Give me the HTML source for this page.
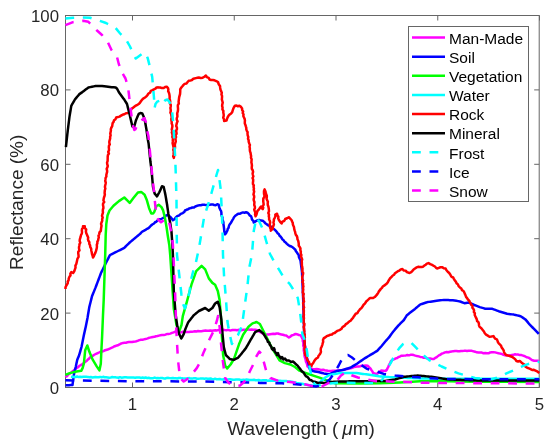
<!DOCTYPE html>
<html><head><meta charset="utf-8"><style>
html,body{margin:0;padding:0;background:#fff;}
svg{display:block;}
text{font-family:"Liberation Sans",Arial,sans-serif;fill:#262626;}
.lg{fill:#000;}
.c{fill:none;stroke-width:2.5;stroke-linejoin:round;}
</style></head><body>
<svg width="550" height="445" viewBox="0 0 550 445">
<rect width="550" height="445" fill="#fff"/>
<g stroke="#666" stroke-width="1" fill="none">
<rect x="65.5" y="15.5" width="473.70000000000005" height="372.0"/>
<line x1="132.50" y1="387.5" x2="132.50" y2="382.5"/><line x1="132.50" y1="15.5" x2="132.50" y2="20.5"/>
<line x1="234.25" y1="387.5" x2="234.25" y2="382.5"/><line x1="234.25" y1="15.5" x2="234.25" y2="20.5"/>
<line x1="336.00" y1="387.5" x2="336.00" y2="382.5"/><line x1="336.00" y1="15.5" x2="336.00" y2="20.5"/>
<line x1="437.75" y1="387.5" x2="437.75" y2="382.5"/><line x1="437.75" y1="15.5" x2="437.75" y2="20.5"/>
<line x1="539.50" y1="387.5" x2="539.50" y2="382.5"/><line x1="539.50" y1="15.5" x2="539.50" y2="20.5"/>
<line x1="65.5" y1="387.50" x2="70.5" y2="387.50"/><line x1="539.2" y1="387.50" x2="534.2" y2="387.50"/>
<line x1="65.5" y1="313.10" x2="70.5" y2="313.10"/><line x1="539.2" y1="313.10" x2="534.2" y2="313.10"/>
<line x1="65.5" y1="238.70" x2="70.5" y2="238.70"/><line x1="539.2" y1="238.70" x2="534.2" y2="238.70"/>
<line x1="65.5" y1="164.30" x2="70.5" y2="164.30"/><line x1="539.2" y1="164.30" x2="534.2" y2="164.30"/>
<line x1="65.5" y1="89.90" x2="70.5" y2="89.90"/><line x1="539.2" y1="89.90" x2="534.2" y2="89.90"/>
<line x1="65.5" y1="15.50" x2="70.5" y2="15.50"/><line x1="539.2" y1="15.50" x2="534.2" y2="15.50"/>
</g>
<g>
<polyline class="c" stroke="#ff00ff" points="65.4,377 67.11,376.06 68.3,374.45 70,373.5 71.39,372.5 72.59,371.29 74.07,370.4 75.16,369.06 76.5,368 78.14,367.21 79.39,365.83 81,365 82.57,364.24 83.77,362.96 85.09,361.85 86.6,361 87.67,359.77 88.92,358.72 90,357.5 91.2,356.51 92.63,355.94 93.86,354.99 95.21,354.27 96.57,353.58 98,353 99.54,352.25 101.15,351.67 102.86,351.36 104.38,350.55 106,350 107.69,349.5 109.3,348.82 110.9,348.12 112.51,347.45 114,346.5 115.52,345.96 117.04,345.43 118.58,344.96 120.01,344.19 121.42,343.38 123,343 124.5,342.84 126,342.68 127.48,342.29 128.97,342.07 130.48,341.95 132.01,342.09 133.5,341.8 135.04,341.63 136.52,341.18 137.99,340.69 139.43,340.1 140.93,339.73 142.52,339.76 144,339.33 145.49,338.93 147,338.6 148.44,338.04 149.92,337.65 151.42,337.31 152.9,336.92 154.46,336.82 155.91,336.29 157.43,336.07 158.9,335.63 160.4,335.3 162.02,335.07 163.66,334.92 165.29,334.69 166.85,334.05 168.5,334 170.3,333.63 171.97,332.95 173.67,332.31 175.3,331.5 176.87,331.67 178.4,332.17 180,332.1 181.51,332.22 182.99,331.81 184.5,332.01 186.01,332.04 187.51,331.92 189.01,331.94 190.5,331.65 192,331.67 193.5,331.5 194.99,331.17 196.51,331.44 197.99,331.05 199.51,331.32 201.01,331.35 202.5,330.96 203.99,330.7 205.49,330.6 207,330.8 208.68,330.72 210.34,330.42 212.03,330.68 213.7,330.52 215.38,330.36 217.06,330.38 218.71,329.98 220.4,330.1 221.91,330.07 223.42,329.83 224.92,330.13 226.43,330.28 227.94,329.89 229.45,330.21 230.95,330.4 232.46,329.99 233.97,329.92 235.48,329.95 236.98,330.3 238.49,329.85 240,330.1 241.71,330.13 243.39,329.68 245.11,329.83 246.82,329.77 248.5,329.4 250.1,329.75 251.76,329.5 253.36,329.85 254.99,329.85 256.6,330.1 257.84,331.08 259.36,331.56 260.75,332.28 262.03,333.18 263.47,333.8 264.7,334.8 266.48,334.43 268.31,334.52 270.1,334.2 271.69,333.96 273.28,333.73 274.92,334.04 276.49,333.5 278.1,333.5 279.68,334.07 281.31,334.41 282.95,334.73 284.56,335.19 286.2,335.5 287.52,336.54 288.9,337.5 290.37,336.66 291.6,335.5 293.54,334.86 295.4,334 297.23,334.33 298.98,335.02 300.8,335.4 301.8,337.4 302.8,339.4 302.73,341.03 303.39,342.57 303.37,344.2 303.25,345.83 303.97,347.37 303.76,349.02 303.83,350.63 304.19,352.21 304.7,353.77 304.45,355.42 304.8,357 305.39,358.53 305.69,360.14 305.97,361.75 306.71,363.24 307.2,364.79 307.5,366.4 309.4,368 311.28,368.43 313,369.3 314.8,369.21 316.6,369.06 318.4,369.3 319.96,369.64 321.52,369.95 323.16,369.71 324.7,370.2 326.27,370.42 327.83,370.77 329.4,370.97 331,371 332.76,370.71 334.55,370.72 336.33,370.66 338.1,370.4 339.67,370.2 341.27,370.26 342.83,369.99 344.4,369.81 345.9,369.09 347.5,369.1 349.01,368.38 350.68,368.25 352.26,367.8 353.79,367.16 355.37,366.7 357,366.4 358.69,366.4 360.37,366.23 361.99,365.58 363.7,365.7 365.75,365.47 367.8,365.7 369.01,367.14 370.4,368.4 371.34,369.91 372.38,371.36 373.1,373 375.1,373.66 377.2,373.8 378.47,372.65 379.71,371.47 381.2,370.6 383.35,370.75 385.5,371 387,369.5 387.62,367.98 388.41,366.54 389,365 390.14,363.07 391,361 392.58,359.83 394.4,359.1 395.75,358.4 397.23,357.96 398.48,357.05 399.94,356.59 401.2,355.7 402.76,355.81 404.3,355.62 405.84,355.4 407.35,354.95 408.94,355.35 410.45,354.81 412,354.8 413.7,355.09 415.35,355.6 417.02,356.02 418.7,356.4 420.34,356.91 422.05,357.12 423.67,357.7 425.4,357.8 426.99,358.23 428.63,358.41 430.28,358.45 431.87,358.92 433.5,359.1 434.87,358.2 436.32,357.43 437.6,356.4 438.86,355.39 440.36,354.75 441.6,353.7 443.35,353.17 445,352.4 446.64,351.98 448.37,352.19 450,351.69 451.66,351.43 453.32,351.14 455,351 456.5,350.91 458,351.14 459.5,351.19 461,350.9 462.5,350.92 464,350.86 465.5,350.63 467,351.07 468.5,350.77 470,350.8 471.74,350.86 473.39,351.32 475.06,351.7 476.69,352.33 478.4,352.5 480.12,352.47 481.82,352.62 483.48,353.22 485.21,353.02 486.9,353.3 488.59,353.28 490.15,352.46 491.81,352.23 493.5,352.2 495.21,352.38 496.86,352.84 498.52,353.27 500.2,353.6 501.93,354 503.52,354.87 505.22,355.36 507,355.6 508.63,355.38 510.29,355.37 511.89,355.03 513.53,354.84 515.1,354.3 516.69,354.61 518.34,354.59 519.89,355.12 521.54,355.07 523.1,355.6 524.92,356.22 526.6,357.21 528.5,357.6 529.9,358.45 531.17,359.49 532.6,360.3 534.25,360.74 535.94,360.77 537.63,360.76 539.3,361"/>
<polyline class="c" stroke="#0000ff" points="65.5,385.3 67.25,385.23 69,385.15 70.75,385.07 72.5,385 72.7,383.4 72.9,381.8 73.1,380.2 73.35,378.52 73.6,376.85 73.85,375.18 74.1,373.5 74.52,371.8 74.95,370.1 75.38,368.4 75.8,366.7 76.15,365.02 76.5,363.35 76.85,361.68 77.2,360 77.87,358.33 78.53,356.67 79.2,355 79.66,353.4 80.12,351.8 80.58,350.2 81.04,348.6 81.5,347 81.8,345.5 82.1,344 82.4,342.5 82.7,341 83,339.5 83.3,338 83.6,336.5 83.9,335 84.26,333.38 84.62,331.76 84.98,330.14 85.34,328.52 85.7,326.9 86,325.4 86.3,323.9 86.6,322.4 86.9,320.9 87.2,319.4 87.5,317.9 87.76,316.36 88.01,314.81 88.27,313.27 88.53,311.73 88.79,310.19 89.04,308.64 89.3,307.1 89.69,305.56 90.07,304.01 90.46,302.47 90.84,300.93 91.23,299.39 91.61,297.84 92,296.3 92.6,294.82 93.2,293.33 93.8,291.85 94.4,290.37 95,288.88 95.6,287.4 96.14,285.96 96.68,284.52 97.22,283.08 97.76,281.64 98.3,280.2 98.84,278.76 99.38,277.32 99.92,275.88 100.46,274.44 101,273 101.66,271.65 102.33,270.3 102.99,268.95 103.65,267.6 104.31,266.25 104.97,264.9 105.64,263.55 106.3,262.2 107.04,260.76 107.78,259.32 108.52,257.88 109.26,256.44 110,255 111.42,254.3 112.84,253.6 114.26,252.9 115.68,252.2 117.1,251.5 118.54,250.76 119.98,250.02 121.42,249.28 122.86,248.54 124.3,247.8 125.38,246.74 126.46,245.68 127.54,244.62 128.62,243.56 129.7,242.5 131.05,241.38 132.4,240.25 133.75,239.12 135.1,238 136.45,236.88 137.8,235.75 139.15,234.62 140.5,233.5 141.74,232.05 143.29,231.02 145,230.2 146.45,229.15 148.09,228.41 149.5,227.3 150.79,225.78 152.27,224.5 154,223.5 155.04,222.25 156.55,221.54 157.6,220.3 159.28,219.24 161.28,218.97 163,218 164.58,217.09 165.81,215.66 167.5,214.9 168.83,215.83 170.2,216.7 171.14,217.87 172.06,219.05 172.9,220.3 174.57,219.27 175.6,217.6 177.2,216.14 179.2,215.3 180.77,213.83 182.8,213.1 184.2,212.06 185,210.5 186.52,209.77 188.1,209.2 189.44,208.41 190.93,207.98 192.38,207.47 194,207.42 195.3,206.5 197.04,205.8 198.84,205.35 200.72,205.22 202.5,204.7 204.3,204.74 206.1,205.11 207.9,205 209.7,204.7 211.2,204.57 212.7,204.43 214.2,205 215.7,205.14 217.2,204.28 218.7,204.7 219.04,206.39 219.47,208.04 220.19,209.6 221.1,211.1 221.4,212.8 221.41,214.46 221.74,216.07 222.48,217.61 222.35,219.3 223,220.86 223.43,222.45 223.44,224.12 223.71,225.74 223.92,227.36 224.1,229 224.27,230.79 224.4,232.58 225,234.3 226.05,233.14 226.73,231.79 227.42,230.45 227.7,228.9 228.61,227.67 228.89,226.12 229.46,224.72 230.4,223.5 231.4,221.98 232.24,220.37 233.24,218.85 234,217.2 235.28,215.74 236.83,214.65 238.5,213.7 240.11,213.63 241.53,212.92 243,212.4 244.48,212.71 246.03,212.3 247.5,212.8 248.76,213.9 249.64,215.4 251.1,216.3 251.65,217.93 252.04,219.62 253.38,220.92 253.8,222.6 255.13,221.67 256.5,220.8 259.2,219.9 260.93,220.61 262.8,220.8 264.16,221.89 265.28,223.25 266.74,224.22 268.1,225.3 269.64,225.91 271,226.8 271.91,228.36 273.5,228.9 274.82,229.74 275.85,230.87 276.84,232.04 277.68,233.36 278.9,234.3 279.55,235.69 280.72,236.69 281.6,237.9 282.29,239.26 283.56,240.18 284.3,241.5 285.72,242.54 286.94,243.83 288.27,244.97 289.7,246 291.41,246.54 292.88,247.5 294.2,248.7 295.36,249.7 295.84,251.22 296.9,252.3 297.66,253.75 298.7,255 298.9,256.93 299.67,258.68 300.5,260.4 300.71,262.06 300.93,263.71 301.14,265.37 301.36,267.03 301.57,268.69 301.79,270.34 302,272 302.07,273.56 302.13,275.11 302.2,276.67 302.27,278.22 302.33,279.78 302.4,281.33 302.47,282.89 302.53,284.44 302.6,286 302.67,287.56 302.73,289.11 302.8,290.67 302.87,292.22 302.93,293.78 303,295.33 303.07,296.89 303.13,298.44 303.2,300 303.24,301.5 303.28,303 303.32,304.5 303.36,306 303.4,307.5 303.44,309 303.48,310.5 303.52,312 303.56,313.5 303.6,315 303.64,316.5 303.68,318 303.72,319.5 303.76,321 303.8,322.5 303.84,324 303.88,325.5 303.92,327 303.96,328.5 304,330 304.07,331.5 304.13,333 304.2,334.5 304.27,336 304.33,337.5 304.4,339 304.47,340.5 304.53,342 304.6,343.5 304.83,345 305.07,346.5 305.3,348 305.53,349.5 305.77,351 306,352.5 306.23,354 306.47,355.5 306.7,357 307.15,358.62 307.6,360.25 308.05,361.88 308.5,363.5 308.93,365.3 309.37,367.1 309.8,368.9 311.4,370 313,371.1 314.8,371.4 316.6,371.7 318.4,372 320.2,372.47 322,372.93 323.8,373.4 325.6,373.7 327.4,374 329.2,374.3 330.7,373.66 332.2,373.02 333.7,372.38 335.2,371.74 336.7,371.1 338.4,370.78 340.1,370.45 341.8,370.12 343.5,369.8 345.18,369.3 346.85,368.8 348.52,368.3 350.2,367.8 351.56,366.98 352.92,366.16 354.28,365.34 355.64,364.52 357,363.7 358.34,362.76 359.68,361.82 361.02,360.88 362.36,359.94 363.7,359 365.04,358.18 366.38,357.36 367.72,356.54 369.06,355.72 370.4,354.9 371.76,354.1 373.12,353.3 374.48,352.5 375.84,351.7 377.2,350.9 378.53,349.43 379.87,347.97 381.2,346.5 382.23,345.25 383.25,344 384.27,342.75 385.3,341.5 386.53,340.13 387.77,338.77 389,337.4 390.02,335.97 391.05,334.55 392.08,333.12 393.1,331.7 394.18,330.44 395.26,329.18 396.34,327.92 397.42,326.66 398.5,325.4 399.58,324.32 400.66,323.24 401.74,322.16 402.82,321.08 403.9,320 404.9,318.4 405.9,316.8 406.9,315.2 408.25,314.15 409.6,313.1 410.95,312.05 412.3,311 413.65,309.95 415,308.9 416.35,307.77 417.7,306.65 419.05,305.52 420.4,304.4 421.84,303.94 423.28,303.48 424.72,303.02 426.16,302.56 427.6,302.1 429.1,301.88 430.6,301.67 432.1,301.45 433.6,301.23 435.1,301.02 436.6,300.8 438.4,300.57 440.2,300.35 442,300.12 443.8,299.9 445.3,299.97 446.8,300.03 448.3,300.1 449.8,300.17 451.3,300.23 452.8,300.3 454.57,300.57 456.35,300.85 458.12,301.12 459.9,301.4 461.4,302 462.9,302.6 464.4,303.2 465.9,303 467.4,302.8 468.9,302.6 470.7,303.4 472.5,304.2 474.3,305 476.1,305.7 477.9,306.4 479.7,307.1 481.53,307.63 483.37,308.17 485.2,308.7 486.88,308.7 488.55,308.7 490.22,308.7 491.9,308.7 493.6,309.32 495.3,309.95 497,310.57 498.7,311.2 500.38,311.7 502.06,312.2 503.74,312.7 505.42,313.2 507.1,313.7 508.77,313.93 510.45,314.15 512.12,314.38 513.8,314.6 515.5,315 517.2,315.4 518.9,315.8 520.6,316.2 521.85,317.05 523.1,317.9 524.35,318.75 525.6,319.6 526.65,320.88 527.7,322.15 528.75,323.43 529.8,324.7 531.2,326.1 532.6,327.5 534,328.9 535.2,330.15 536.4,331.4 537.6,332.65 538.8,333.9"/>
<polyline class="c" stroke="#00ff00" points="65.4,374.8 69.7,373.1 76.5,371.5 81.2,370.8 82.6,368.1 83.9,363.4 85.2,350.2 87.3,345.5 89.3,351.6 92.7,359.7 96.7,366.4 99.4,370.4 100.8,363.7 101.4,350.2 102.1,336.7 103,315 103.7,300 104.6,273 105.2,255 105.7,235 106.3,224 107.5,215.5 109.5,210.5 113.5,205.8 118.9,201.1 124.3,197.5 127,200.2 129.7,202.9 133.4,198.1 137.9,192.5 141.2,191.9 144.6,194.7 146.9,200.3 149.1,208.2 151.3,213.5 153.1,213.5 154.2,212.1 156.4,206 158.7,204.8 161.5,207.1 163.1,210.4 164.8,217.2 166.6,227.5 167.9,236.5 169.3,245 170.2,255 172,282 173.8,308.9 176.5,325.1 179.2,331.4 181.5,325 182.8,316.1 186.9,301.7 191.7,283.8 196.2,271.2 201.6,265.8 205.2,269.4 208.8,278.4 212.4,282.9 215.1,284.7 217.8,291 219.6,300 220.8,315 221.8,335 223.1,355 225.2,365.8 227.2,368.5 230.6,364.5 233.9,359.1 239,344.3 243.1,334.8 248.5,326.7 252.5,323.4 256.6,322 259.9,324 263.3,330.8 267.4,338.9 271.4,347 275.4,353.7 279.5,360.4 284.9,363.1 290.3,364.5 295,367 299.5,370.7 304,372.5 309.4,374.3 314.8,376.1 320.2,377.9 328,381 335,383.2 360,383.5 380,383.2 400,382.4 420,381.3 440,380.9 460,381.4 480,381.8 539.3,381.9"/>
<polyline class="c" stroke="#00ffff" points="71,376.8 72.53,376.93 74.06,376.78 75.59,377.04 77.12,376.54 78.64,377.06 80.18,376.82 81.7,377.03 83.24,376.7 84.77,376.86 86.3,376.82 87.83,376.89 89.35,377.23 90.88,377.05 92.41,377.46 93.94,377.18 95.47,376.91 97,377.24 98.53,377.19 100.06,376.9 101.59,377.23 103.12,376.84 104.65,377.15 106.18,377.3 107.7,377.44 109.23,377.68 110.76,377.43 112.3,376.98 113.82,377.36 115.36,377.2 116.88,377.62 118.41,377.75 119.95,377.13 121.47,377.7 123,377.5 124.51,377.36 126.02,377.29 127.53,377.53 129.04,377.52 130.55,377.44 132.06,377.44 133.57,377.6 135.08,377.82 136.59,377.43 138.1,377.61 139.61,377.53 141.12,377.94 142.63,377.58 144.13,377.99 145.65,377.45 147.15,378.13 148.67,377.81 150.17,378.24 151.68,378.15 153.19,378.21 154.71,377.58 156.21,378.17 157.73,378.02 159.23,378.33 160.74,378.09 162.26,377.94 163.76,378.41 165.27,378.5 166.79,377.9 168.3,377.86 169.8,378.12 171.31,378.32 172.83,377.94 174.33,378.3 175.84,378.29 177.35,378.52 178.87,378.01 180.38,378.03 181.88,378.36 183.39,378.56 184.9,378.45 186.41,378.6 187.92,378.24 189.44,378.08 190.94,378.62 192.45,378.61 193.97,378.14 195.48,378.2 196.98,378.72 198.49,378.71 200,378.6 201.51,378.41 203.01,378.49 204.5,378.66 206.01,378.39 207.5,378.65 209.01,378.65 210.51,378.53 212,378.96 213.49,379.34 215.01,378.69 216.5,379.22 218,379.2 219.5,378.98 221,379.31 222.49,379.46 224.01,379.09 225.5,379.25 227,379.47 228.5,379.36 230.01,379.2 231.5,379.42 233,379.7 234.5,379.65 236,379.48 237.5,379.49 239.01,379.44 240.5,379.88 241.99,380.01 243.51,379.63 245,379.97 246.51,379.57 248.01,379.7 249.5,380.08 251,379.94 252.5,380.03 254.01,379.77 255.5,380.18 257,380.19 258.51,380.04 260,380.3 261.54,380.44 263.08,380.16 264.62,380.3 266.16,380.14 267.68,380.79 269.23,380.58 270.76,380.89 272.31,380.48 273.84,380.87 275.38,380.82 276.93,380.36 278.45,381.1 280,380.8 281.67,380.92 283.34,380.9 285.01,381.05 286.68,381.09 288.32,381.59 290,381.5 291.68,381.78 293.35,382.1 295.01,382.46 296.64,382.98 298.32,383.23 300,383.5 301.6,383.8 303.2,384.1 304.8,384.4 306.4,384.7 308,385 309.5,385.25 311,385.5 312.5,385.75 314,386 316,385.25 318,384.5 319.2,383.23 320.4,381.97 321.6,380.7 322.83,379.63 324.07,378.57 325.3,377.5 327.15,376.4 329,375.3 331,374.75 333,374.2 334.75,373.93 336.5,373.65 338.25,373.38 340,373.1 341.75,373.1 343.5,373.1 345.25,373.1 347,373.1 348.6,373.06 350.2,373.02 351.8,372.98 353.4,372.94 355,372.9 356.6,373.1 358.2,373.3 359.8,373.5 361.4,373.7 363,373.9 364.6,374.12 366.2,374.34 367.8,374.56 369.4,374.78 371,375 372.6,375.24 374.2,375.48 375.8,375.72 377.4,375.96 379,376.2 380.85,376.4 382.7,376.6 384.55,376.8 386.4,377 388.12,377.08 389.84,377.16 391.56,377.24 393.28,377.32 395,377.4 396.56,377.46 398.12,377.52 399.69,377.59 401.25,377.65 402.81,377.71 404.38,377.77 405.94,377.84 407.5,377.9 409.06,377.96 410.62,378.02 412.19,378.09 413.75,378.15 415.31,378.21 416.88,378.27 418.44,378.34 420,378.4 421.5,378.41 423,378.43 424.5,378.44 426,378.46 427.5,378.47 429,378.49 430.5,378.5 432,378.52 433.5,378.53 435,378.55 436.5,378.56 438,378.58 439.5,378.59 441,378.61 442.5,378.62 444,378.64 445.5,378.65 447,378.67 448.5,378.69 450,378.7 451.54,378.7 453.08,378.71 454.62,378.71 456.15,378.72 457.69,378.72 459.23,378.72 460.77,378.73 462.31,378.73 463.85,378.73 465.38,378.74 466.92,378.74 468.46,378.75 470,378.75 471.54,378.75 473.08,378.76 474.62,378.76 476.15,378.77 477.69,378.77 479.23,378.77 480.77,378.78 482.31,378.78 483.85,378.78 485.38,378.79 486.92,378.79 488.46,378.8 490,378.8 491.54,378.8 493.08,378.8 494.62,378.8 496.16,378.8 497.7,378.8 499.24,378.8 500.78,378.8 502.32,378.8 503.87,378.8 505.41,378.8 506.95,378.8 508.49,378.8 510.03,378.8 511.57,378.8 513.11,378.8 514.65,378.8 516.19,378.8 517.73,378.8 519.27,378.8 520.81,378.8 522.35,378.8 523.89,378.8 525.43,378.8 526.97,378.8 528.52,378.8 530.06,378.8 531.6,378.8 533.14,378.8 534.68,378.8 536.22,378.8 537.76,378.8 539.3,378.8"/>
<polyline class="c" stroke="#ff0000" points="65.5,289 65.51,287.36 66.13,285.93 66.94,284.56 67.76,283.2 67.71,281.53 68.6,280.2 68.74,278.45 69.4,276.87 70.49,275.43 70.39,273.6 71.3,272.1 73.1,273 74.24,271.32 74.9,269.4 75.52,267.64 75.41,265.7 76.29,264.01 76.7,262.2 77.09,260.39 77.51,258.58 78.58,256.93 78.5,255 78.22,253.4 78.3,251.84 79.47,250.39 79.05,248.77 78.99,247.19 79.3,245.65 79.5,244.1 80.31,242.62 79.66,240.98 79.83,239.42 80.3,237.9 80.73,236.46 81.03,234.99 81.8,233.62 82.01,232.13 81.83,230.55 82.01,229.05 83.02,227.75 83,226.2 84.8,226.2 84.73,227.99 86.2,229.36 85.9,231.22 86.21,232.91 86.89,234.49 87.5,236.1 88.19,237.57 87.95,239.26 88.41,240.79 89.37,242.19 89.28,243.85 90.11,245.28 90.2,246.9 91.14,248.58 91.28,250.46 91.73,252.26 92,254.1 92.61,255.77 93,257.5 93.99,255.87 94.7,254.1 95.44,252.65 95.96,251.14 96.37,249.6 96.77,248.06 96.94,246.46 96.81,244.79 97.4,243.3 97.35,241.73 98.13,240.33 98.35,238.81 98.79,237.34 98.46,235.71 99.2,234.3 99.48,232.39 100.84,230.85 101,228.9 101.27,227.28 101.54,225.67 101.05,223.97 101.54,222.38 102.27,220.81 102.15,219.15 102.68,217.56 101.98,215.85 102.42,214.25 102.97,212.66 102.8,211 102.89,209.49 103.42,208.03 103.32,206.51 102.98,204.96 103.11,203.46 104.23,202.05 103.43,200.46 103.67,198.97 103.97,197.48 104.53,196.02 104.84,194.54 104.6,193 104.72,191.5 104.88,190 105.34,188.53 104.92,186.98 105.17,185.49 105.57,184.01 105.74,182.51 105.23,180.95 105.45,179.46 105.62,177.96 106.4,176.52 106.3,175 106.67,173.49 107.14,171.98 107.07,170.42 106.67,168.83 107.38,167.35 107.78,165.84 107.25,164.24 107.04,162.66 107.59,161.17 107.65,159.62 107.69,158.08 107.71,156.52 107.95,155 108.92,153.55 108.19,151.92 108.97,150.45 109,148.9 108.82,147.36 108.94,145.84 109.77,144.39 109.33,142.82 109.35,141.29 109.78,139.8 110.18,138.31 110.13,136.78 110.64,135.3 110.28,133.74 110.55,132.23 110.9,130.74 110.8,129.2 111.3,127.75 112.1,126.4 112.39,124.87 112.58,123.3 113.5,122 114.04,120.29 115.57,119.16 116.2,117.5 117.88,117.07 119.54,116.6 121.01,115.67 122.5,114.8 124.33,114.28 125.98,113.25 127.9,113 129.25,112.19 129.76,110.54 131.08,109.7 131.94,108.4 133.3,107.6 134.58,106.59 135.88,105.62 137.3,104.83 138.7,104 139.88,102.88 140.74,101.49 141.7,100.2 143.17,98.63 145,97.5 146.4,96.37 147.53,95 148.5,93.5 150.07,92.64 150.83,90.84 152.5,90.1 153.94,89.31 155.47,88.66 156.6,87.4 158.43,87.37 160.24,87.54 162,88.1 163.67,87.96 165.09,87.02 166.7,86.7 168,88.1 168.36,89.59 168.16,91.18 168.88,92.62 169.33,94.1 169.56,95.61 169.67,97.15 169.54,98.72 170,100.2 170.25,101.74 169.92,103.33 170.8,104.83 170.71,106.4 170.4,107.98 170.67,109.52 170.75,111.08 170.38,112.66 171.21,114.17 171.43,115.71 171.7,117.26 171.31,118.84 171.4,120.4 171.73,121.89 171.64,123.41 172.27,124.88 172.38,126.39 172.07,127.93 171.76,129.47 172.37,130.94 171.81,132.49 172.28,133.98 172.58,135.47 172.28,137.01 172.99,138.47 172.8,140 172.78,141.63 172.6,143.28 173.03,144.88 173.36,146.5 173.7,148.11 173.26,149.77 173.78,151.37 173.67,153.01 173.57,154.65 173.22,156.3 173.8,157.9 174.15,156.29 174.15,154.65 174.68,153.06 174.25,151.37 174.5,149.75 174.98,148.16 175,146.52 174.8,144.85 175.17,143.24 175.79,141.66 175.6,140 175.44,138.42 176.07,136.9 175.46,135.28 176.58,133.8 176.4,132.22 176.13,130.63 176.97,129.12 176.89,127.55 176.2,125.92 176.52,124.38 176.91,122.84 177.59,121.32 176.77,119.69 176.78,118.12 177.4,116.6 177.33,114.94 177.18,113.28 177.72,111.67 178,110.04 178.03,108.39 177.85,106.73 177.86,105.08 178.85,103.51 178.59,101.83 178.8,100.2 178.98,98.65 179.18,97.11 179.6,95.6 180.04,94.09 180.16,92.53 180.25,90.97 180.2,89.4 181.05,87.85 182.2,86.5 183.32,85.1 184.61,83.9 186.5,83.43 187.6,82 188.71,80.82 190.34,80.57 191.87,80.14 193,79 194.43,78.44 195.92,78.13 197.4,77.79 198.9,77.5 200.77,78.09 202.7,77.7 204.41,76.77 205.9,75.5 206.82,77.08 208.68,77.83 209.5,79.5 211.13,80.02 212.84,79.98 214.5,80.3 216.3,81.05 218,82 218.69,84.16 220,86 220.2,87.74 220.46,89.47 221.1,91.09 221.8,92.7 221.44,94.38 222.06,96.01 222.01,97.67 221.84,99.34 222.3,100.98 222.73,102.61 222.33,104.29 222.1,105.97 222.6,107.6 222.38,109.32 223.38,110.9 223.29,112.61 223.65,114.27 223.71,115.96 223.22,117.71 224,119.32 224.1,121 226.5,120.6 227.01,118.89 227.67,117.23 228.6,115.7 229.75,114.45 231.13,113.43 232.2,112.1 232.72,110.46 233.23,108.81 233.95,107.26 234.9,105.8 236.4,105.54 237.9,106.25 239.4,105.8 241.01,106.89 242.1,108.5 242.13,110.05 243.12,111.42 242.69,113.06 243.55,114.45 243.3,116.06 243.97,117.49 244.65,118.91 244.94,120.41 244.8,122 244.82,123.54 245.43,124.94 245.83,126.38 246.31,127.81 246.28,129.36 246.84,130.77 247.63,132.13 247.5,133.7 247.69,135.35 248.3,136.93 248.02,138.67 248.65,140.24 248.7,141.92 249.3,143.5 249.94,145.02 249.52,146.68 249.85,148.24 249.82,149.85 250.01,151.43 250.59,152.96 250.77,154.54 251.1,156.1 250.96,157.7 251.66,159.23 251.5,160.83 251.39,162.43 251.75,163.98 251.95,165.55 251.76,167.16 251.78,168.75 252.71,170.25 253.07,171.81 252.63,173.44 252.9,175 253.36,176.48 252.53,178.03 253.15,179.5 253.16,181 252.93,182.52 252.94,184.02 253.82,185.48 253.55,187 253.93,188.48 253.69,190 254.13,191.48 253.8,193 253.46,194.52 254.11,195.99 254.15,197.49 253.66,199.02 253.82,200.52 254.43,201.99 254.33,203.5 254.22,205.01 254.82,206.48 254.95,207.98 254.23,209.52 254.7,211 255.37,212.7 255.07,214.57 255.6,216.3 256.45,214.62 256.9,212.8 257.4,211 259.2,209.2 259.96,207.76 261,206.5 261.57,208.07 262.8,209.2 263.25,207.71 262.61,206.11 263.65,204.67 263.5,203.12 263.26,201.56 263.27,200.03 263.33,198.5 264.25,197.05 264.43,195.53 264.02,193.95 263.97,192.41 263.99,190.88 264.6,189.4 265.4,191.2 265.79,192.68 266.22,194.16 266.78,195.6 266.82,197.16 266.55,198.77 267.2,200.2 267.87,201.74 267.7,203.39 267.78,205 268.37,206.55 268.71,208.14 268.86,209.74 268.99,211.35 268.28,213.06 269,214.6 268.78,216.25 269.14,217.85 269.1,219.48 269.91,221.02 270.17,222.62 269.68,224.31 270.14,225.88 269.98,227.53 270.77,229.07 270.8,230.7 272.6,228.9 272.81,227.29 273.44,225.77 273.91,224.21 273.44,222.48 273.84,220.91 273.87,219.27 274.76,217.79 275.46,216.28 275.3,214.6 277.1,213.7 277.48,215.3 278.37,216.74 278.25,218.48 278.9,220 280.12,221.85 281.6,223.5 282.46,221.73 284.36,220.78 285.2,219 287.08,218.26 288.8,217.2 290.16,218.59 291.5,220 292.11,221.43 292.76,222.86 292.88,224.44 293.44,225.89 294.03,227.33 294.2,228.9 294.59,230.4 295.11,231.84 295.35,233.4 295.88,234.84 296.9,236.1 297.32,237.63 297.44,239.24 298.19,240.7 298.51,242.25 298.76,243.83 298.7,245.49 299.6,246.9 300.45,248.41 300.36,250.13 300.86,251.72 300.71,253.45 301.4,255 301.02,256.54 301.65,258 302.19,259.47 301.74,261.01 301.85,262.51 301.86,264.01 301.87,265.52 302.32,267 302.34,268.5 302.5,270 302.26,271.51 303.12,272.98 302.94,274.49 302.49,276.01 302.22,277.52 302.31,279.02 303.09,280.49 302.38,282.02 303.19,283.49 303.05,285 303.43,286.49 302.99,288 303.27,289.5 303,291.01 302.75,292.52 303.71,293.99 303.18,295.51 303.29,297 303.7,298.49 303.5,300 304.05,301.49 303.09,303.01 303.39,304.51 303.5,306 304.11,307.49 303.27,309.01 303.86,310.5 303.82,312 303.75,313.5 303.91,315 303.39,316.51 303.96,318 303.76,319.5 303.69,321.01 303.55,322.51 304.42,323.99 304.27,325.5 303.64,327.01 304.05,328.5 304.2,330 304.38,331.5 303.86,333.01 304.74,334.49 304.63,335.99 304.87,337.49 304.25,339.01 304.49,340.5 304.74,341.99 304.63,343.5 304.6,345 304.97,346.65 304.57,348.35 304.61,350.02 305.13,351.66 304.7,353.36 305.2,355 306.56,356.79 307,359 307.77,360.7 309.01,362.16 309.5,364 311.5,366 311.97,364.3 313.22,363.03 314,361.5 315.01,359.85 316.34,358.5 318,357.5 318.42,355.97 319.42,354.77 320.3,353.5 320.98,351.87 320.72,350.06 320.87,348.32 321.6,346.7 322.24,345.09 322.64,343.42 323.18,341.79 323,340 323.66,338.39 325.1,337.4 326.7,336.17 328.6,335.53 330.4,334.7 331.99,334.51 333.12,333.39 334.64,333.05 335.8,332 337.19,330.93 338.85,330.37 340.4,329.6 341.63,328.67 342.35,327.23 343.66,326.38 344.97,325.53 345.8,324.2 347.23,323.41 348.34,322.26 349.64,321.32 350.96,320.41 351.88,319.04 353,317.9 353.81,316.44 354.82,315.14 355.7,313.74 357.47,313.04 358.2,311.52 359.26,310.26 360.2,308.9 361.59,307.91 362.52,306.52 363.35,305.04 364.59,303.92 365.6,302.6 366.4,301.15 367.66,300.16 368.85,299.1 370.1,298.1 372.8,298.1 374.75,297.01 376.3,295.4 377.35,294.17 378.19,292.81 378.9,291.36 379.9,290.1 380.86,288.9 381.97,287.85 382.79,286.51 384.11,285.67 385.3,284.7 386.85,283.48 387.97,281.92 388.9,280.2 389.88,278.53 391.3,277.2 392.5,275.7 394.02,274.78 394.99,273.2 396.45,272.2 397.9,271.2 399.44,270.55 400.75,269.42 402.4,269 403.64,270.4 405.7,270.63 406.9,272.1 409.6,273 411.22,272.2 412.42,270.89 413.58,269.54 415,268.5 416.7,267.39 418.6,266.7 420.1,267.11 421.6,266.93 423.1,266.7 424.27,265.54 425.69,264.73 426.9,263.63 428.5,263.1 430.24,264.13 432.1,264.9 433.5,265.73 434.91,266.53 436.03,267.79 437.5,268.5 438.92,267.81 440.39,267.25 442,267.2 443.69,268.16 445.6,268.5 446.47,270.27 447.74,271.71 449.2,273 450.05,274.24 450.81,275.54 451.58,276.84 453.21,277.5 453.88,278.87 454.6,280.2 455.79,281.55 456.51,283.23 457.93,284.41 458.61,286.13 459.9,287.4 461.29,288.41 461.95,290.15 463.5,291 464.28,292.39 464.85,293.89 465.53,295.32 466.06,296.84 467.1,298.1 467.94,299.49 469.16,300.62 469.85,302.11 470.7,303.5 471.31,304.88 472.47,305.99 472.4,307.71 473.4,308.9 474.05,310.34 473.86,312.03 474.88,313.36 474.72,315.04 475.42,316.47 476.1,317.9 476.81,319.36 477.09,320.98 478.41,322.2 478.92,323.73 479.02,325.43 479.7,326.9 481.35,328.3 482.7,330 483.92,331.51 484.78,333.27 486.1,334.7 487.77,335.67 489.4,336.7 491.47,336.52 493.5,336.1 494.3,337.45 495.22,338.69 496.83,339.34 497.5,340.8 498.01,342.33 498.91,343.62 500.22,344.66 501.17,345.92 501.6,347.5 502.72,348.86 503.65,350.34 504.01,352.11 504.9,353.6 506.32,355.07 508.3,355.6 510.35,356.29 512.4,357 513.91,358.16 515.32,359.41 516.4,361 518.1,361.52 519.8,361 521.42,362.39 523.1,363.7 524.67,364.86 525.51,366.75 527.2,367.8 528.93,368.37 530.6,369.1 532.14,369.97 533.9,369.8 536.6,371.1 537.94,372.11 539.3,373.1"/>
<polyline class="c" stroke="#000000" points="65.9,147.1 66.08,145.49 66.26,143.88 66.44,142.27 66.62,140.66 66.8,139.05 66.98,137.44 67.16,135.83 67.34,134.22 67.52,132.61 67.7,131 67.9,129.4 68.1,127.8 68.3,126.2 68.5,124.6 68.7,123 68.9,121.4 69.1,119.8 69.3,118.2 69.5,116.6 69.76,115.06 70.01,113.51 70.27,111.97 70.53,110.43 70.79,108.89 71.04,107.34 71.3,105.8 72.2,104.22 73.1,102.65 74,101.08 74.9,99.5 76.03,98.15 77.15,96.8 78.28,95.45 79.4,94.1 80.85,93.1 82.3,92.1 83.52,91.18 84.74,90.26 85.96,89.34 87.18,88.42 88.4,87.5 90.2,87.12 92,86.75 93.8,86.38 95.6,86 97.22,86 98.85,86 100.47,86 102.1,86 104.2,86.25 106.3,86.5 108.1,86.73 109.9,86.97 111.7,87.2 113.7,87.35 115.7,87.5 117.1,88.7 118,90.5 118.9,92.3 119.8,93.52 120.7,94.73 121.6,95.95 122.5,97.17 123.4,98.38 124.3,99.6 125.2,101.07 126.1,102.53 127,104 127.39,105.54 127.77,107.09 128.16,108.63 128.54,110.17 128.93,111.71 129.31,113.26 129.7,114.8 130.04,116.26 130.38,117.72 130.71,119.19 131.05,120.65 131.39,122.11 131.72,123.58 132.06,125.04 132.4,126.5 134.2,126.5 134.65,124.92 135.1,123.35 135.55,121.78 136,120.2 136.68,118.62 137.35,117.05 138.02,115.48 138.7,113.9 140.4,113 142.3,113.5 142.95,114.95 143.6,116.4 144.1,118.2 144.6,120 145.1,121.8 145.38,123.42 145.66,125.04 145.94,126.66 146.22,128.28 146.5,129.9 146.72,131.47 146.93,133.03 147.15,134.6 147.37,136.17 147.58,137.73 147.8,139.3 148.2,141.4 148.6,143.5 148.75,145 148.9,146.5 149.05,148 149.2,149.5 149.35,151 149.5,152.5 149.65,154 149.8,155.5 149.95,157 150.1,158.5 150.25,160 150.4,161.5 150.62,163.2 150.84,164.9 151.06,166.6 151.28,168.3 151.5,170 151.64,171.54 151.77,173.07 151.91,174.61 152.05,176.15 152.18,177.68 152.32,179.22 152.45,180.75 152.59,182.29 152.73,183.83 152.86,185.36 153,186.9 153.43,188.57 153.85,190.25 154.27,191.93 154.7,193.6 155.85,195 157,196.4 158.1,194.45 159.2,192.5 159.9,190.95 160.6,189.4 161.3,187.85 162,186.3 163.7,186.9 164.04,188.46 164.38,190.02 164.72,191.58 165.06,193.14 165.4,194.7 165.68,196.38 165.97,198.07 166.25,199.75 166.53,201.43 166.82,203.12 167.1,204.8 167.32,206.33 167.53,207.87 167.75,209.4 167.97,210.93 168.18,212.47 168.4,214 168.7,215.5 169,217 169.3,218.5 169.6,220 169.9,221.5 170.2,223 170.42,224.5 170.63,226 170.85,227.5 171.07,229 171.28,230.5 171.5,232 171.61,233.62 171.72,235.25 171.84,236.88 171.95,238.5 172.06,240.12 172.18,241.75 172.29,243.38 172.4,245 172.48,246.67 172.57,248.33 172.65,250 172.73,251.67 172.82,253.33 172.9,255 172.94,256.5 172.97,258 173.01,259.5 173.05,261 173.09,262.5 173.12,264 173.16,265.5 173.2,267 173.24,268.5 173.28,270 173.31,271.5 173.35,273 173.39,274.5 173.43,276 173.46,277.5 173.5,279 173.54,280.5 173.58,282 173.61,283.5 173.65,285 173.69,286.5 173.73,288 173.76,289.5 173.8,291 173.92,292.55 174.04,294.11 174.16,295.66 174.28,297.21 174.4,298.77 174.52,300.32 174.64,301.87 174.76,303.43 174.88,304.98 175,306.53 175.12,308.09 175.24,309.64 175.36,311.19 175.48,312.75 175.6,314.3 175.82,315.88 176.05,317.45 176.28,319.02 176.5,320.6 176.72,322.18 176.95,323.75 177.18,325.32 177.4,326.9 177.85,328.7 178.3,330.5 178.75,332.3 179.2,334.1 179.9,335.57 180.6,337.03 181.3,338.5 182.1,337.03 182.9,335.57 183.7,334.1 184.27,332.4 184.83,330.7 185.4,329 186.07,327.38 186.75,325.75 187.43,324.12 188.1,322.5 189.18,321.1 190.26,319.7 191.34,318.3 192.42,316.9 193.5,315.5 194.85,314.38 196.2,313.25 197.55,312.12 198.9,311 200.47,310.25 202.05,309.5 203.62,308.75 205.2,308 206.4,308.9 207.6,309.8 208.8,310.7 210.6,309.35 212.4,308 213.3,306.5 214.2,305 215.1,303.5 216.45,302.6 217.8,301.7 218.4,303.5 219,305.3 219.6,307.1 219.82,308.68 220.05,310.25 220.28,311.82 220.5,313.4 220.72,314.98 220.95,316.55 221.18,318.12 221.4,319.7 221.52,321.23 221.64,322.77 221.77,324.3 221.89,325.83 222.01,327.37 222.13,328.9 222.26,330.43 222.38,331.97 222.5,333.5 222.64,335 222.79,336.5 222.93,338 223.08,339.5 223.22,341 223.37,342.5 223.51,344 223.66,345.5 223.8,347 224.2,348.6 224.6,350.2 225,351.8 225.4,353.4 225.8,355 227.17,356.37 228.53,357.73 229.9,359.1 231.9,359.45 233.9,359.8 235.27,359.13 236.63,358.47 238,357.8 239.2,356.4 240.4,355 241.48,353.66 242.56,352.32 243.64,350.98 244.72,349.64 245.8,348.3 246.57,346.96 247.34,345.61 248.11,344.27 248.89,342.93 249.66,341.59 250.43,340.24 251.2,338.9 252,337.54 252.8,336.18 253.6,334.82 254.4,333.46 255.2,332.1 256.57,331.43 257.93,330.77 259.3,330.1 260.63,331.23 261.97,332.37 263.3,333.5 264.12,334.84 264.94,336.18 265.76,337.52 266.58,338.86 267.4,340.2 267.79,341.8 269.38,342.69 269.61,344.39 270.61,345.63 271.4,347 271.81,348.71 273,350 274,348 274.56,349.44 274.53,351.06 275.4,352.4 276.49,353.52 277,355 278,353 278.3,354.9 279.5,356.4 281,358.5 282,357 283.5,359.5 285,358.5 286.5,360.5 288.9,360.4 291,362 293,361.5 295,363.3 296.26,364.51 297.63,365.62 298.6,367.1 299.92,368.5 300.9,370.18 302.2,371.6 303.76,372.81 304.69,374.53 305.8,376.1 307.35,376.95 308.5,378.2 309.4,379.7 311.35,380.31 313,381.5 314.57,381.67 316.06,382.15 317.5,382.8 319,383.08 320.5,382.72 322,382.8 323.53,383.02 325.04,382.93 326.53,382.79 328.04,382.71 329.51,382.21 331,382 332.5,381.92 334,381.83 335.5,381.75 337,381.67 338.5,381.58 340,381.5 341.54,381.48 343.08,381.45 344.62,381.43 346.15,381.41 347.69,381.38 349.23,381.36 350.77,381.34 352.31,381.32 353.85,381.29 355.38,381.27 356.92,381.25 358.46,381.22 360,381.2 361.56,381.19 363.12,381.18 364.69,381.16 366.25,381.15 367.81,381.14 369.38,381.12 370.94,381.11 372.5,381.1 374.06,381.09 375.62,381.07 377.19,381.06 378.75,381.05 380.31,381.04 381.88,381.02 383.44,381.01 385,381 386.67,380.75 388.33,380.5 390,380.25 391.67,380 393.33,379.75 395,379.5 396.5,379.05 398,378.6 399.5,378.15 401,377.7 402.5,377.25 404,376.8 405.52,376.66 407.04,376.51 408.57,376.37 410.09,376.22 411.61,376.08 413.13,375.93 414.66,375.79 416.18,375.64 417.7,375.5 419.22,375.64 420.74,375.79 422.27,375.93 423.79,376.08 425.31,376.22 426.83,376.37 428.36,376.51 429.88,376.66 431.4,376.8 432.96,377.06 434.51,377.31 436.07,377.57 437.63,377.83 439.19,378.09 440.74,378.34 442.3,378.6 443.84,378.78 445.38,378.96 446.92,379.14 448.46,379.32 450,379.5 451.5,379.55 453,379.6 454.5,379.65 456,379.7 457.5,379.75 459,379.8 460.5,379.85 462,379.9 463.5,379.95 465,380 466.5,380.05 468,380.1 469.5,380.15 471,380.2 472.5,380.25 474,380.3 475.5,380.35 477,380.4 478.5,380.45 480,380.5 481.52,380.5 483.04,380.51 484.56,380.51 486.08,380.51 487.6,380.51 489.12,380.52 490.64,380.52 492.16,380.52 493.68,380.52 495.21,380.53 496.73,380.53 498.25,380.53 499.77,380.53 501.29,380.54 502.81,380.54 504.33,380.54 505.85,380.54 507.37,380.55 508.89,380.55 510.41,380.55 511.93,380.55 513.45,380.56 514.97,380.56 516.49,380.56 518.01,380.56 519.53,380.57 521.05,380.57 522.57,380.57 524.09,380.57 525.62,380.58 527.14,380.58 528.66,380.58 530.18,380.58 531.7,380.59 533.22,380.59 534.74,380.59 536.26,380.59 537.78,380.6 539.3,380.6"/>
<polyline class="c" stroke="#00ffff" stroke-dasharray="8.8 8.7" points="65.4,18.5 73,17.8 83,17.5 90,17.8 98.5,20.4 106,23 115.5,27.8 119.7,33 126.4,40.2 130,46.5 134,55.4 135.8,58.5 138.5,56.5 143.7,52.8 145,52.5 147.7,58.1 150.4,68.9 152.2,77 153.1,86.9 154,98 154.6,108 155.5,104 157.2,101.6 161.3,100.2 163.3,103.6 165.3,100.2 167.4,99.5 169.5,102 172,110 173.4,125 174.5,145 175.3,160 175.8,175 176.5,200 176.7,230 177,255 178.5,268 180,282 181.5,295 183,304 185,308.5 187.5,300 189.5,292 191,280 193,272 196,262 199,248 202.5,227 204.3,216 208,205 211.5,193 214,184 216.5,175 218,170 219.5,180 220.8,190 221.5,205 222.5,230 223,255 224,275 226,300 227.5,322 229.2,332 231.9,344 233.9,340 238,335 241,328 242.1,325 244.8,305 247.5,285.6 249.3,267.6 252,254 253.8,230.7 256.5,217.5 259.5,222 262.8,229 266.3,241.5 270,254 273.5,260.4 278.9,269.4 284.3,278.4 289.7,283.8 294.2,291 297.8,298.1 299.6,308.9 301.4,323.3 302.3,334 304.7,340 306.8,350 308.5,362 311.2,375 313,381 315,385 318,385.5 322,384.3 330,383.5 341,382.6 357,383 370,383 377,382.8 380,382.3 383,378.5 385.8,371.5 388.3,366.8 390.8,362.9 394.8,354.8 397.3,351 399.8,347.6 403,344.2 406.5,342.2 408.8,341.8 411.5,343 414.6,346.2 418.7,350.3 424.1,355.7 429.5,360.4 436.2,363.8 441.6,366.5 449.8,370.2 458.5,373.4 466.2,375.5 474.9,378 485,379.2 492,379.3 500.2,376.5 507,373.1 513.7,370.4 520.4,367.1 527.2,364.4 533.9,362.4 539.3,361.7"/>
<polyline class="c" stroke="#0000ff" stroke-dasharray="8.8 8.7" points="65.4,380.3 130,381.2 200,381.5 240,382.3 260,382.9 282,383.3 296,384.2 305,385.2 316,386.6 322,384.5 329.6,379.6 333.5,374 338.7,365.5 342,359 345,355.5 348,355 352,357.5 359.7,364 366.8,368.8 375.8,371.1 383.7,373.9 395,375.6 401,375.9 410,377 418,377.3 428,378.2 436,378.6 445,378.9 490,379.3 539.3,379.3"/>
<polyline class="c" stroke="#ff00ff" stroke-dasharray="8.8 8.7" points="65.4,25.2 73,22.2 83,20.8 88.4,21.8 97,30.5 102,35 108,42.5 111.5,50 117,57 118.8,64 122.3,73 125.5,78.5 128,87 129,95 130,104.5 131,112 132.6,124 134.3,130 135.3,129.5 137.8,123.8 139.7,121.8 144.4,118 145.8,121.8 146.8,129 148.5,136.6 150.3,155 151.5,168 152.4,177 153.5,187 154.5,197 155.3,206 156.5,214 158.5,220 161,222.3 163.5,220.5 166,218.5 168.5,220 170,226 171.5,233 172.9,245 173.8,264 175,290 176.5,334 178,360 179.4,372.4 181,379 183.7,381.5 186,380 189.2,377.4 196.8,368.1 199.5,363.2 203.6,352.4 209,340.2 213.7,330.8 217.1,320 218,316 219.8,328 221.1,344.3 223.1,363.1 225.2,378 228,382 231,385 236,386 240,385.4 243,383 246.5,379.5 249.5,372 253,365 256,357 259.3,351.5 261.5,354 263.3,360 266.2,370.8 270.5,378 278.5,381 290,382 296,382.8 304.7,384.3 312.7,386.1 321.6,386.5 329.6,382.5 337.6,379.6 341,375.5 345,372.5 348,373 351.5,375.3 358,377.5 368.4,379.8 377,381.3 386,381.2 395,381.7 403,381.8 412,382.3 420,382.7 445,383 539.3,383.5"/>
</g>
<g font-size="16.8px">
<text x="132.50" y="409.8" text-anchor="middle">1</text>
<text x="234.25" y="409.8" text-anchor="middle">2</text>
<text x="336.00" y="409.8" text-anchor="middle">3</text>
<text x="437.75" y="409.8" text-anchor="middle">4</text>
<text x="539.50" y="409.8" text-anchor="middle">5</text>
<text x="59" y="393.90" text-anchor="end">0</text>
<text x="59" y="319.50" text-anchor="end">20</text>
<text x="59" y="245.10" text-anchor="end">40</text>
<text x="59" y="170.70" text-anchor="end">60</text>
<text x="59" y="96.30" text-anchor="end">80</text>
<text x="59" y="21.90" text-anchor="end">100</text>
</g>
<text x="0" y="0" font-size="19px" text-anchor="middle" transform="translate(22.6,202.3) rotate(-90)">Reflectance (%)</text>
<text x="301" y="434.8" font-size="19px" text-anchor="middle">Wavelength (&#8201;<tspan font-style="italic">μ</tspan>m)</text>
<rect x="408.5" y="26.5" width="120" height="175" fill="#fff" stroke="#666" stroke-width="1"/>
<g font-size="15.5px">
<line class="c" x1="412" y1="37.6" x2="445" y2="37.6" stroke="#ff00ff"/>
<text class="lg" x="449" y="43.8">Man-Made</text>
<line class="c" x1="412" y1="56.7" x2="445" y2="56.7" stroke="#0000ff"/>
<text class="lg" x="449" y="62.9">Soil</text>
<line class="c" x1="412" y1="75.8" x2="445" y2="75.8" stroke="#00ff00"/>
<text class="lg" x="449" y="82.0">Vegetation</text>
<line class="c" x1="412" y1="95.0" x2="445" y2="95.0" stroke="#00ffff"/>
<text class="lg" x="449" y="101.2">Water</text>
<line class="c" x1="412" y1="114.1" x2="445" y2="114.1" stroke="#ff0000"/>
<text class="lg" x="449" y="120.3">Rock</text>
<line class="c" x1="412" y1="133.2" x2="445" y2="133.2" stroke="#000000"/>
<text class="lg" x="449" y="139.4">Mineral</text>
<line class="c" x1="412" y1="152.3" x2="445" y2="152.3" stroke="#00ffff" stroke-dasharray="8.8 8.7"/>
<text class="lg" x="449" y="158.5">Frost</text>
<line class="c" x1="412" y1="171.4" x2="445" y2="171.4" stroke="#0000ff" stroke-dasharray="8.8 8.7"/>
<text class="lg" x="449" y="177.6">Ice</text>
<line class="c" x1="412" y1="190.6" x2="445" y2="190.6" stroke="#ff00ff" stroke-dasharray="8.8 8.7"/>
<text class="lg" x="449" y="196.8">Snow</text>
</g>
</svg>
</body></html>
